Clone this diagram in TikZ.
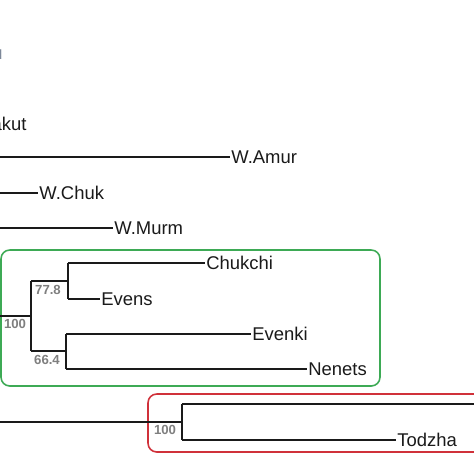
\documentclass[tikz,border=0pt]{standalone}
\usepackage{fontspec}
\setmainfont{Liberation Sans}
\usepackage{xcolor}
\usetikzlibrary{positioning,calc}
\definecolor{Ink}{HTML}{1A1A1A}
\definecolor{Boot}{HTML}{7F7F7F}
\definecolor{CladeGreen}{HTML}{3DAA55}
\definecolor{CladeRed}{HTML}{D0313A}
\definecolor{Slate}{HTML}{7D8899}
\tikzset{
  leaf/.style={anchor=west,inner xsep=0.6pt,inner ysep=1pt,font=\fontsize{10.5}{12}\selectfont,text=Ink},
  boot/.style={font=\fontsize{7.5}{8}\selectfont\bfseries,text=Boot,inner sep=0pt},
  branch/.style={draw=Ink,line width=0.6pt},
  clade/.style={rounded corners=5pt,line width=0.9pt}
}

\begin{document}
\begin{tikzpicture}[x=0.02cm,y=-0.02cm]
  \useasboundingbox (0,0) rectangle (474,474);
  \clip (0,0) rectangle (474,474);
  % clade boxes
  \draw[clade,draw=CladeGreen] (1,250) rectangle (380,386);
  \draw[clade,draw=CladeRed] (148,394) rectangle (520,452);
  % cut-off labels at the left edge
  \node[leaf,anchor=east,text=Slate] (scale) at (4,55) {u};
  \node[leaf,anchor=east] (yakut) at (28,124) {Yakut};
  % outer leaves
  \coordinate (o1) at (0,157);
  \coordinate (o2) at (0,193);
  \coordinate (o3) at (0,228);
  \node[leaf] (amur) at (230,157) {W.Amur};
  \node[leaf] (wchuk) at (38,193) {W.Chuk};
  \node[leaf] (wmurm) at (113,228) {W.Murm};
  \draw[branch] (o1) -- (amur.west);
  \draw[branch] (o2) -- (wchuk.west);
  \draw[branch] (o3) -- (wmurm.west);
  % green clade
  \coordinate (gin) at (0,316);
  \coordinate (groot) at (31,316);
  \coordinate (ga) at (68,281);
  \coordinate (gb) at (66,351);
  \node[leaf] (chukchi) at (205,263) {Chukchi};
  \node[leaf] (evens) at (100,299) {Evens};
  \node[leaf] (evenki) at (251,334) {Evenki};
  \node[leaf] (nenets) at (307,369) {Nenets};
  \draw[branch] (gin) -- (groot);
  \draw[branch] (groot |- ga) -- (groot |- gb);
  \draw[branch] (groot |- ga) -- (ga);
  \draw[branch] (groot |- gb) -- (gb);
  \draw[branch] (ga |- chukchi.west) -- (ga |- evens.west);
  \draw[branch] (ga |- chukchi.west) -- (chukchi.west);
  \draw[branch] (ga |- evens.west) -- (evens.west);
  \draw[branch] (gb |- evenki.west) -- (gb |- nenets.west);
  \draw[branch] (gb |- evenki.west) -- (evenki.west);
  \draw[branch] (gb |- nenets.west) -- (nenets.west);
  \node[boot] (bg) at (15,324) {100};
  \node[boot] (bga) at (48,290) {77.8};
  \node[boot] (bgb) at (47,360) {66.4};
  % red clade
  \coordinate (rin) at (0,422);
  \coordinate (rroot) at (182,422);
  \coordinate (rtop) at (500,404);
  \node[leaf] (todzha) at (396,440) {Todzha};
  \draw[branch] (rin) -- (rroot);
  \draw[branch] (rroot |- rtop) -- (rroot |- todzha.west);
  \draw[branch] (rroot |- rtop) -- (rtop);
  \draw[branch] (rroot |- todzha.west) -- (todzha.west);
  \node[boot] (br) at (165,430) {100};
\end{tikzpicture}
\end{document}
